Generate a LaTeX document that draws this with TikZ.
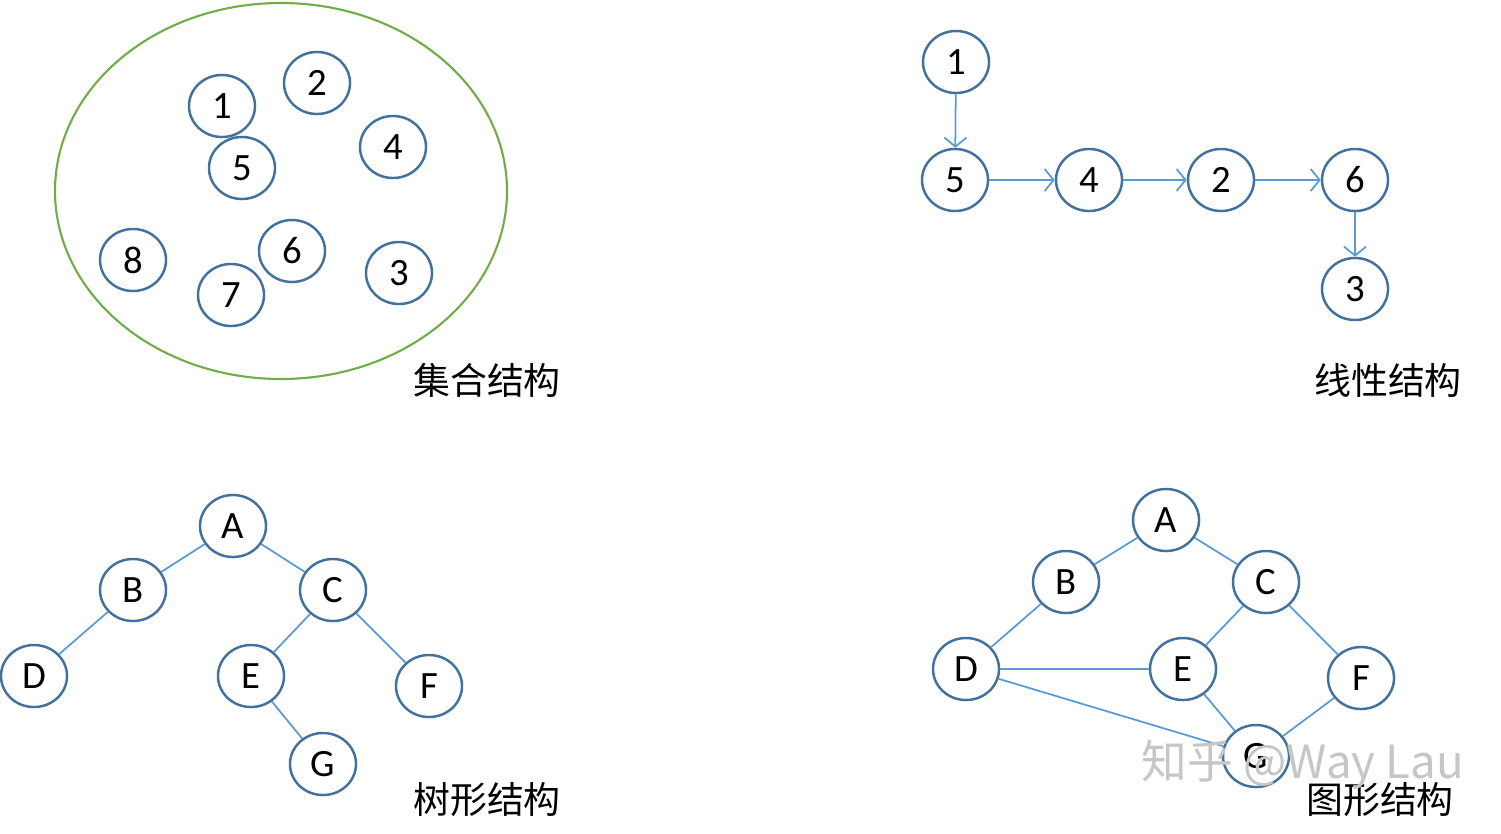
\documentclass[tikz,border=0pt]{standalone}
\usepackage{fontspec}
\setmainfont{Carlito}
\newfontfamily\cjk{Noto Sans CJK SC}
\usetikzlibrary{arrows.meta, shapes.geometric}
\definecolor{ringblue}{HTML}{41719C}
\definecolor{lineblue}{HTML}{5B9BD5}
\definecolor{setgreen}{HTML}{70AD47}

\begin{document}
\begin{tikzpicture}[
    x=0.01cm, y=-0.01cm,
    every node/.style={ellipse, draw=ringblue, line width=0.7pt, fill=white, minimum width=0.66cm, minimum height=0.62cm, inner sep=0pt, font=\fontsize{11}{13}\selectfont},
    caption/.style={draw=none, fill=none, rectangle, font=\cjk\fontsize{10.5}{12}\selectfont},
    link/.style={draw=lineblue, line width=0.5pt},
    >={Straight Barb[length=0.9mm, width=2.2mm]}
  ]
  \useasboundingbox (0,0) rectangle (1501,833);

  % set structure: loose elements inside a green ring
  \draw[setgreen, line width=0.6pt] (281,191) ellipse [x radius=226, y radius=188];
  \node (s1) at (222,106) {1};
  \node (s2) at (317,83) {2};
  \node (s4) at (393,147) {4};
  \node (s5) at (242,168) {5};
  \node (s8) at (133,260) {8};
  \node (s6) at (292,251) {6};
  \node (s7) at (231,295) {7};
  \node (s3) at (399,273) {3};
  \node[caption] (capset) at (487,380) {集合结构};

  % linear structure: one chain of arrows
  \node (l1) at (956,62) {1};
  \node (l5) at (955,180) {5};
  \node (l4) at (1089,180) {4};
  \node (l2) at (1221,180) {2};
  \node (l6) at (1355,180) {6};
  \node (l3) at (1355,289) {3};
  \draw[link, ->] (l1) -- (l5);
  \draw[link, ->] (l5) -- (l4);
  \draw[link, ->] (l4) -- (l2);
  \draw[link, ->] (l2) -- (l6);
  \draw[link, ->] (l6) -- (l3);
  \node[caption] (caplin) at (1388,380) {线性结构};

  % tree structure
  \node (tA) at (233,526) {A};
  \node (tB) at (133,590) {B};
  \node (tC) at (333,590) {C};
  \node (tD) at (34,676) {D};
  \node (tE) at (251,676) {E};
  \node (tF) at (429,686) {F};
  \node (tG) at (323,764) {G};
  \draw[link] (tA) -- (tB);
  \draw[link] (tA) -- (tC);
  \draw[link] (tB) -- (tD);
  \draw[link] (tC) -- (tE);
  \draw[link] (tC) -- (tF);
  \draw[link] (tE) -- (tG);
  \node[caption] (captree) at (487,800) {树形结构};

  % graph structure
  \node (gA) at (1166,520) {A};
  \node (gB) at (1066,582) {B};
  \node (gC) at (1266,582) {C};
  \node (gD) at (966,669) {D};
  \node (gE) at (1183,669) {E};
  \node (gF) at (1361,678) {F};
  \node (gG) at (1256,756) {G};
  \draw[link] (gA) -- (gB);
  \draw[link] (gA) -- (gC);
  \draw[link] (gB) -- (gD);
  \draw[link] (gC) -- (gE);
  \draw[link] (gC) -- (gF);
  \draw[link] (gD) -- (gE);
  \draw[link] (gD) -- (gG);
  \draw[link] (gE) -- (gG);
  \draw[link] (gF) -- (gG);
  \node[caption] (capgraph) at (1380,800) {图形结构};

  % watermark
  \node[caption, text=gray!45, font=\cjk\fontsize{13}{15}\selectfont] (mark) at (1303,765) {知乎 @Way Lau};
\end{tikzpicture}
\end{document}
